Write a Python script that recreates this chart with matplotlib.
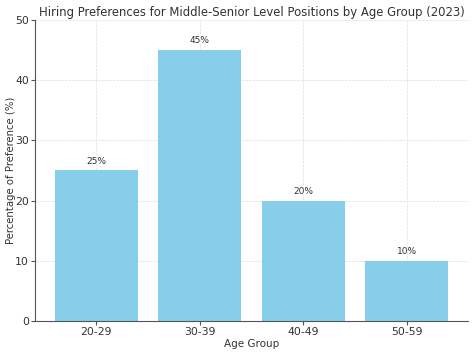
import matplotlib
matplotlib.use("Agg")
import matplotlib.pyplot as plt

age_groups = ["20-29", "30-39", "40-49", "50-59"]
preferences = [25, 45, 20, 10]

plt.rcParams['text.color'] = '#333333'
plt.rcParams['axes.labelcolor'] = '#333333'
plt.rcParams['xtick.color'] = '#555555'
plt.rcParams['ytick.color'] = '#555555'
plt.rcParams['xtick.labelcolor'] = '#333333'
plt.rcParams['ytick.labelcolor'] = '#333333'

fig, ax = plt.subplots(figsize=(4.74, 3.53), dpi=100)
bars = ax.bar(age_groups, preferences, color='skyblue', width=0.8, zorder=2)

for b, v in zip(bars, preferences):
    ax.text(b.get_x() + b.get_width()/2, v + 0.8, f"{v}%", ha='center', va='bottom', fontsize=6.5, color='#333333')

ax.set_ylim(0, 50)
ax.set_title("Hiring Preferences for Middle-Senior Level Positions by Age Group (2023)", fontsize=8.4, pad=3)
ax.set_xlabel("Age Group", fontsize=7.5, labelpad=1)
ax.set_ylabel("Percentage of Preference (%)", fontsize=7.3)
ax.yaxis.set_label_coords(-0.045, 0.5)
ax.tick_params(labelsize=7.8, length=3, pad=1.5)
ax.grid(True, linestyle='--', linewidth=0.5, color='#dddddd', zorder=0)
for s in ['top', 'right']:
    ax.spines[s].set_visible(False)
for s in ['left', 'bottom']:
    ax.spines[s].set_color('#555555')

fig.subplots_adjust(left=0.074, right=0.987, top=0.943, bottom=0.091)
fig.savefig("out.png", dpi=100)
